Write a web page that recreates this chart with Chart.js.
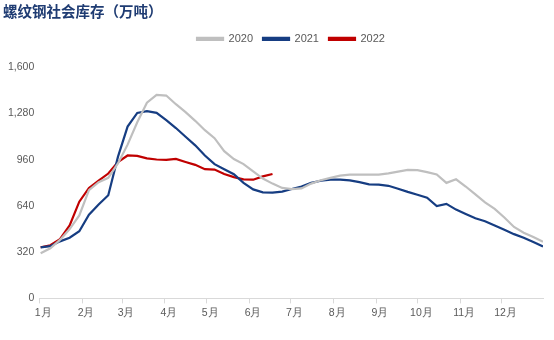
<!DOCTYPE html>
<html>
<head>
<meta charset="utf-8">
<script src="https://cdn.jsdelivr.net/npm/chart.js@4/dist/chart.umd.min.js"></script>
<style>
  html, body { margin: 0; padding: 0; background: #ffffff; }
  canvas { display: block; }
</style>
</head>
<body>
<canvas id="c" width="554" height="340"></canvas>
<script>
// Weekly observation dates (day of year, 2020 calendar)
const weekDays = [1,8,15,22,29,36,43,50,57,64,71,78,85,92,99,106,113,120,127,134,141,148,155,162,169,176,183,190,197,204,211,218,225,232,239,246,253,260,267,274,281,288,295,302,309,316,323,330,337,344,351,358,365];

// Month tick positions and labels
const monthDays = [0,31,60,91,121,152,182,213,244,274,305,335];
const monthLabels = ['1月','2月','3月','4月','5月','6月','7月','8月','9月','10月','11月','12月'];

// Y axis ticks
const yTicks = [0,320,640,960,1280,1600];

// Series (万吨)
const s2020 = [313,347,405,480,575,750,805,835,935,1065,1220,1355,1410,1405,1345,1290,1230,1165,1110,1020,965,930,880,830,795,765,757,762,795,818,835,850,857,857,857,858,866,878,890,888,875,858,800,825,775,720,665,620,560,495,455,425,393];
const s2021 = [354,362,395,420,465,580,650,715,980,1190,1285,1297,1285,1235,1180,1120,1060,990,930,895,860,800,755,735,733,740,758,775,800,815,823,823,818,805,790,788,780,760,738,718,697,640,655,615,585,555,535,505,475,445,420,390,359];
const s2022 = [354,368,410,505,670,765,815,865,945,990,987,970,962,960,966,945,925,895,892,862,840,825,822,845,862];

const series = [
  { label: '2020', values: s2020, color: '#bfbfbf' },
  { label: '2021', values: s2021, color: '#163d82' },
  { label: '2022', values: s2022, color: '#c00000' }
];

const datasets = series.map(s => ({
  label: s.label,
  data: s.values.map((v, i) => ({ x: weekDays[i], y: v })),
  borderColor: s.color,
  backgroundColor: s.color,
  borderWidth: 2.2,
  pointRadius: 0,
  tension: 0,
  fill: false
}));

const headerShift = {
  id: 'headerShift',
  afterLayout(chart) {
    const t = chart.titleBlock;
    if (t) { t.top -= 14; t.bottom -= 14; }
    const l = chart.legend;
    if (l) { l.left += 18; l.right += 18; l.top -= 13; l.bottom -= 13; }
  }
};

new Chart(document.getElementById('c'), {
  type: 'line',
  data: { datasets },
  plugins: [headerShift],
  options: {
    responsive: false,
    animation: false,
    devicePixelRatio: 1,
    layout: { padding: { left: 3, right: 11, top: 17, bottom: 18 } },
    plugins: {
      title: {
        display: true,
        text: '螺纹钢社会库存（万吨）',
        align: 'start',
        color: '#1f3c73',
        font: { family: '"Noto Sans CJK SC", sans-serif', size: 14.5, weight: 'bold' },
        padding: { top: 0, bottom: 2 }
      },
      legend: {
        display: true,
        position: 'top',
        align: 'center',
        labels: {
          boxWidth: 26,
          boxHeight: 2,
          padding: 10,
          color: '#595959',
          font: { family: '"Liberation Sans", Arial, sans-serif', size: 11 }
        }
      },
      tooltip: { enabled: false }
    },
    scales: {
      x: {
        type: 'linear',
        min: 0,
        max: 365,
        afterBuildTicks(scale) { scale.ticks = monthDays.map(v => ({ value: v })); },
        ticks: {
          autoSkip: false,
          maxRotation: 0,
          color: '#595959',
          labelOffset: 4,
          padding: 3,
          font: { family: '"Liberation Sans", Arial, sans-serif', size: 10.5 },
          callback: (v, i) => monthLabels[i]
        },
        grid: { drawOnChartArea: false, drawTicks: true, tickLength: 5, color: '#d9d9d9' },
        border: { display: true, color: '#d9d9d9' }
      },
      y: {
        min: 0,
        max: 1600,
        afterBuildTicks(scale) { scale.ticks = yTicks.map(v => ({ value: v })); },
        ticks: {
          color: '#595959',
          padding: 5,
          font: { family: '"Liberation Sans", Arial, sans-serif', size: 10.5 },
          callback: v => v.toLocaleString('en-US')
        },
        grid: { display: false, drawTicks: false },
        border: { display: false }
      }
    }
  }
});
</script>
</body>
</html>
